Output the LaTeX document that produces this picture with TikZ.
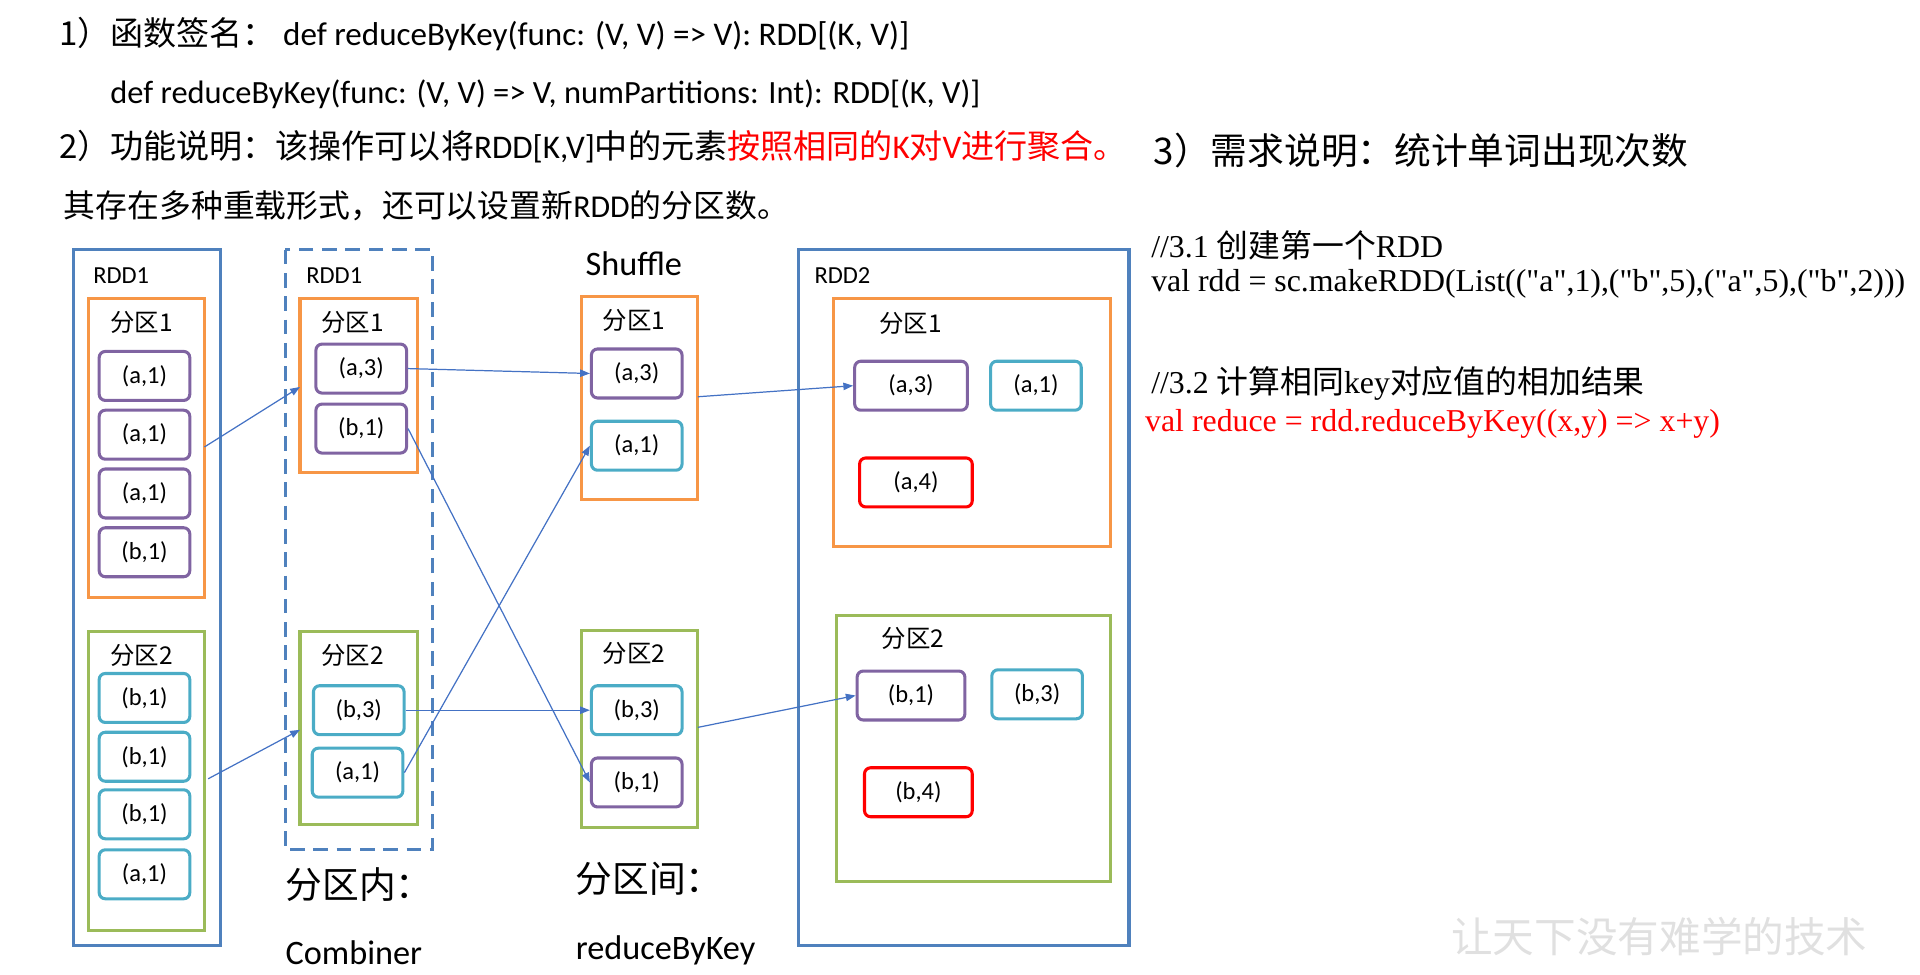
\documentclass[tikz,border=0pt]{standalone}
\usepackage{fontspec}
\setmainfont{Carlito}
\newfontfamily\cjk{Noto Sans CJK SC}
\newfontfamily\tms{Liberation Serif}
\usetikzlibrary{arrows.meta}
\definecolor{cblue}{HTML}{4F81BD}
\definecolor{corange}{HTML}{F79646}
\definecolor{cgreen}{HTML}{9BBB59}
\definecolor{cpurple}{HTML}{8064A2}
\definecolor{ccyan}{HTML}{4BACC6}
\definecolor{carrow}{HTML}{4472C4}
\begin{document}
\begin{tikzpicture}[x=1pt,y=-1pt,
  txt/.style={anchor=west,inner sep=0pt},
  big/.style={txt,font=\fontsize{26}{30}\selectfont},
  lab/.style={txt,font=\cjk\fontsize{20}{24}\selectfont},
  rdd/.style={draw=cblue,line width=2.5pt},
  po/.style={draw=corange,line width=2.5pt},
  pg/.style={draw=cgreen,line width=2.5pt},
  item/.style={draw=#1,line width=2.5pt,rounded corners=5pt,minimum width=74pt,minimum height=40pt,inner sep=0pt,font=\fontsize{20}{24}\selectfont},
  arr/.style={draw=carrow,line width=1pt,-{Triangle[length=8pt,width=6pt]}}]
\useasboundingbox (0,0) rectangle (1568,796);
% header
\node[big,font=\fontsize{27}{30}\selectfont] (t1) at (48,28) {{\cjk 1）函数签名：} def reduceByKey(func: (V, V) => V): RDD[(K, V)]};
\node[big,font=\fontsize{26.5}{30}\selectfont] (t2) at (90,77) {def reduceByKey(func: (V, V) => V, numPartitions: Int): RDD[(K, V)]};
\node[big,font=\fontsize{27}{30}\selectfont] (t3) at (48,120) {{\cjk 2）功能说明：该操作可以将}RDD[K,V]{\cjk 中的元素}\textcolor{red}{{\cjk 按照相同的}K{\cjk 对}V{\cjk 进行聚合。}}};
\node[big,font=\fontsize{26}{30}\selectfont] (t4) at (52,168) {{\cjk 其存在多种重载形式，还可以设置新}RDD{\cjk 的分区数。}};
\node[txt,font=\cjk\fontsize{30}{34}\selectfont] (t5) at (942,123) {3）需求说明：统计单词出现次数};
\node[txt,font=\tms\fontsize{26}{30}\selectfont] (c1) at (940,200) {//3.1 {\cjk 创建第一个}RDD};
\node[txt,font=\tms\fontsize{26}{30}\selectfont] (c2) at (940,232) {val rdd = sc.makeRDD(List(("a",1),("b",5),("a",5),("b",2)))};
\node[txt,font=\tms\fontsize{26}{30}\selectfont] (c3) at (940,313) {//3.2 {\cjk 计算相同}key{\cjk 对应值的相加结果}};
\node[txt,font=\tms\fontsize{26}{30}\selectfont,text=red] (c4) at (935,346) {val reduce = rdd.reduceByKey((x,y) => x+y)};
% RDD1
\draw[rdd] (60,204) rectangle (180,772);
\node[txt,font=\fontsize{20}{24}\selectfont] (r1) at (76,225) {RDD1};
\draw[po] (72,244) rectangle (167,488);
\node[lab] (l1) at (90,263) {分区1};
\node[item=cpurple] (a1) at (118,307) {(a,1)};
\node[item=cpurple] (a2) at (118,355) {(a,1)};
\node[item=cpurple] (a3) at (118,403) {(a,1)};
\node[item=cpurple] (a4) at (118,451) {(b,1)};
\draw[pg] (72,516) rectangle (167,760);
\node[lab] (l2) at (90,535) {分区2};
\node[item=ccyan] (b1) at (118,570) {(b,1)};
\node[item=ccyan] (b2) at (118,618) {(b,1)};
\node[item=ccyan] (b3) at (118,665) {(b,1)};
\node[item=ccyan] (b4) at (118,714) {(a,1)};
\coordinate (o1) at (167,365);
\coordinate (o2) at (170,636);
% Combiner
\draw[rdd,dash pattern=on 12pt off 7pt] (233,204) rectangle (353,694);
\node[txt,font=\fontsize{20}{24}\selectfont] (r2) at (250,225) {RDD1};
\draw[po] (245,244) rectangle (341,386);
\node[lab] (l3) at (262,263) {分区1};
\node[item=cpurple] (ca3) at (295,301) {(a,3)};
\node[item=cpurple] (cb1) at (295,350) {(b,1)};
\draw[pg] (245,516) rectangle (341,673);
\node[lab] (l4) at (262,535) {分区2};
\node[item=ccyan] (cb3) at (293,580) {(b,3)};
\node[item=ccyan] (ca1) at (292,631) {(a,1)};
\coordinate (i1) at (245,316);
\coordinate (i2) at (245,596);
\node[txt,font=\cjk\fontsize{30}{34}\selectfont] (n1) at (233,722) {分区内：};
\node[txt,font=\fontsize{28}{32}\selectfont] (n2) at (233,778) {Combiner};
% Shuffle
\node[txt,font=\fontsize{28}{32}\selectfont] (sh) at (478,215) {Shuffle};
\draw[po] (475,242) rectangle (570,408);
\node[lab] (l5) at (492,262) {分区1};
\node[item=cpurple] (sa3) at (520,305) {(a,3)};
\node[item=ccyan] (sa1) at (520,364) {(a,1)};
\draw[pg] (475,515) rectangle (570,676);
\node[lab] (l6) at (492,534) {分区2};
\node[item=ccyan] (sb3) at (520,580) {(b,3)};
\node[item=cpurple] (sb1) at (520,639) {(b,1)};
\coordinate (s1) at (570,324);
\coordinate (s2) at (570,594);
\node[txt,font=\cjk\fontsize{30}{34}\selectfont] (n3) at (470,718) {分区间：};
\node[txt,font=\fontsize{28}{32}\selectfont] (n4) at (470,776) {reduceByKey};
% RDD2
\draw[rdd] (652,204) rectangle (922,772);
\node[txt,font=\fontsize{20}{24}\selectfont] (r3) at (665,225) {RDD2};
\draw[po] (681,244) rectangle (907,446);
\node[lab] (l7) at (718,264) {分区1};
\node[item=cpurple,minimum width=92pt] (ra3) at (744,315) {(a,3)};
\node[item=ccyan] (ra1) at (846,315) {(a,1)};
\node[item=red,minimum width=92pt] (ra4) at (748,394) {(a,4)};
\draw[pg] (683,503) rectangle (907,720);
\node[lab] (l8) at (720,521) {分区2};
\node[item=cpurple,minimum width=88pt] (rb1) at (744,568) {(b,1)};
\node[item=ccyan] (rb3) at (847,567) {(b,3)};
\node[item=red,minimum width=88pt] (rb4) at (750,647) {(b,4)};
% arrows
\draw[arr] (o1) -- (i1);
\draw[arr] (o2) -- (i2);
\draw[arr] (ca3.east) -- (sa3.west);
\draw[arr] (cb1.east) -- (sb1.west);
\draw[arr] (cb3.east) -- (sb3.west);
\draw[arr] (ca1.east) -- (sa1.west);
\draw[arr] (s1) -- (ra3.west);
\draw[arr] (s2) -- (rb1.west);
% watermark
\node[txt,font=\cjk\fontsize{34}{38}\selectfont,text=black!12] (wm) at (1185,765) {让天下没有难学的技术};
\end{tikzpicture}
\end{document}
